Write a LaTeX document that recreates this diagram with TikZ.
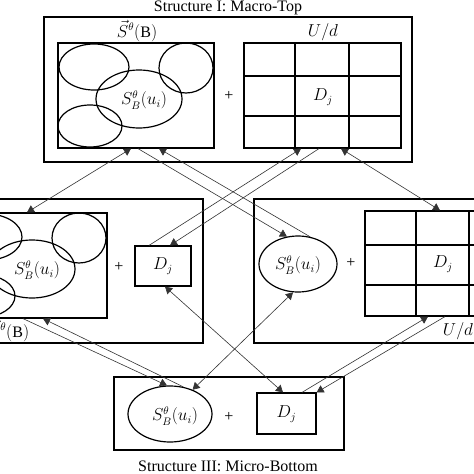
\documentclass[tikz,border=0pt]{standalone}
\usepackage{fontspec}
\setmainfont{Liberation Serif}
\usetikzlibrary{shapes.geometric,arrows.meta,calc}
\begin{document}
\begin{tikzpicture}[x=1pt,y=-1pt,
  box/.style={draw, line width=1.2pt, inner sep=0pt},
  ell/.style={draw, ellipse, line width=1.2pt, inner sep=0pt},
  lbl/.style={font=\fontsize{16}{18}\selectfont, inner sep=0pt},
  link/.style={draw=black!80, line width=0.6pt},
  tip/.style={-{Triangle[width=8pt,length=7pt]}},
  tips/.style={{Triangle[width=8pt,length=7pt]}-{Triangle[width=8pt,length=7pt]}},
]
\clip (0,0) rectangle (474,474);
\fill[white] (0,0) rectangle (474,474);

% ---------- Structure I ----------
\node[lbl] (t1) at (228,8) {Structure I: Macro-Top};
\node[box, minimum width=368pt, minimum height=145pt] (o1) at (228,89.5) {};
\node[box, minimum width=156pt, minimum height=105pt] (b1L) at (136,95.5) {};
\node[lbl] (l1L) at (137,31) {$\vec{S}^{\theta}(\mathrm{B})$};
\node[ell, minimum width=70pt, minimum height=46pt] (e1a) at (94,67) {};
\node[ell, minimum width=54pt, minimum height=50pt] (e1b) at (186,68) {};
\node[ell, minimum width=86pt, minimum height=58pt] (e1c) at (139,99) {};
\node[ell, minimum width=64pt, minimum height=42pt] (e1d) at (90,126) {};
\node[lbl] (s1) at (144,100) {$S_B^{\theta}(u_i)$};
\node[lbl] (p1) at (229,96) {+};
\node[box, minimum width=157pt, minimum height=105pt] (g1) at (322.5,95.5) {};
\draw[line width=1.2pt] (295,43) -- (295,148) (349,43) -- (349,148)
  (244,76) -- (401,76) (244,116) -- (401,116);
\node[lbl] (l1R) at (323,32) {$U/d$};
\node[lbl] (dj1) at (323,97) {$D_j$};

% ---------- Structure II left ----------
\node[box, minimum width=266pt, minimum height=144pt] (o2L) at (70,271) {};
\node[box, minimum width=156pt, minimum height=105pt] (b2L) at (29,265.5) {};
\node[ell, minimum width=70pt, minimum height=46pt] (e2a) at (-13,237) {};
\node[ell, minimum width=54pt, minimum height=50pt] (e2b) at (79,238) {};
\node[ell, minimum width=86pt, minimum height=58pt] (e2c) at (32,269) {};
\node[ell, minimum width=64pt, minimum height=42pt] (e2d) at (-17,296) {};
\node[lbl] (s2L) at (37,270) {$S_B^{\theta}(u_i)$};
\node[lbl] (l2L) at (9,331) {$\vec{S}^{\theta}(\mathrm{B})$};
\node[lbl] (p2L) at (119,267) {+};
\node[box, minimum width=56pt, minimum height=40pt] (d2L) at (163,266) {};
\node[lbl] (dj2L) at (163,266) {$D_j$};

% ---------- Structure II right ----------
\node[box, minimum width=300pt, minimum height=144pt] (o2R) at (404,271) {};
\node[ell, minimum width=78pt, minimum height=56pt] (e2R) at (298,264) {};
\node[lbl] (s2R) at (298,265) {$S_B^{\theta}(u_i)$};
\node[lbl] (p2R) at (351,263) {+};
\node[box, minimum width=157pt, minimum height=105pt] (g2) at (443.5,263.5) {};
\draw[line width=1.2pt] (416,211) -- (416,316) (469,211) -- (469,316)
  (365,245) -- (522,245) (365,285) -- (522,285);
\node[lbl] (dj2R) at (443,264) {$D_j$};
\node[lbl] (l2R) at (458,331) {$U/d$};

% ---------- Structure III ----------
\node[box, minimum width=230pt, minimum height=73pt] (o3) at (229,413.5) {};
\node[ell, minimum width=84pt, minimum height=56pt] (e3) at (170,414) {};
\node[lbl] (s3) at (175,416) {$S_B^{\theta}(u_i)$};
\node[lbl] (p3) at (229,417) {+};
\node[box, minimum width=59pt, minimum height=41pt] (d3) at (286.5,413.5) {};
\node[lbl] (dj3) at (286.5,414) {$D_j$};
\node[lbl] (t3) at (228,466) {Structure III: Micro-Bottom};

% ---------- connectors ----------
\draw[link,tips] ([xshift=-5pt]b1L.south) -- ([xshift=-2pt]b2L.north);
\draw[link,tip] ([xshift=2pt]b1L.south) -- (e2R.112);
\draw[link,tip] (e2R.66) -- ([xshift=23pt]b1L.south);
\draw[link,tip] ([xshift=-3.5pt]g1.south) -- ([xshift=7pt]d2L.north);
\draw[link,tip] ([xshift=-14pt]d2L.north) -- ([xshift=-21.5pt]g1.south);
\draw[link,tips] ([xshift=18.5pt]g1.south) -- ([xshift=-3.5pt]g2.north);
\draw[link,tip] ([xshift=-6pt]b2L.south) -- (e3.96);
\draw[link,tip] (e3.64) -- ([xshift=14pt]b2L.south);
\draw[link,tips] (e2R.260) -- (e3.47);
\draw[link,tips] ([xshift=2pt]d2L.south) -- ([xshift=-3.5pt]d3.north);
\draw[link,tip] ([xshift=1.5pt]g2.south) -- (d3.north east);
\draw[link,tip] ([xshift=15.5pt]d3.north) -- ([xshift=-15.5pt]g2.south);
\end{tikzpicture}
\end{document}
